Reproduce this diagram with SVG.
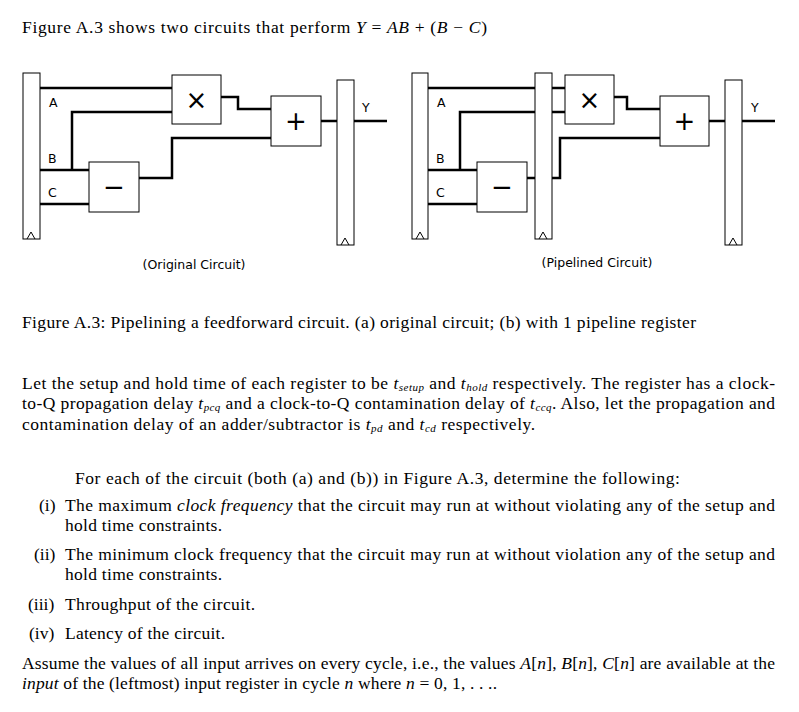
<svg xmlns="http://www.w3.org/2000/svg" width="799" height="712" viewBox="0 0 799 712">
<style>
.reg{fill:#fff;stroke:#000;stroke-width:1}
.box{fill:#fff;stroke:#000;stroke-width:1}
.w{fill:none;stroke:#000;stroke-width:2.5}
.clk{fill:none;stroke:#000;stroke-width:1}
.lab{font-family:"DejaVu Sans",sans-serif;font-size:12.5px}
.op{font-family:"DejaVu Sans",sans-serif;font-size:26px;text-anchor:middle}
.cap{font-family:"DejaVu Sans",sans-serif;font-size:12.5px;text-anchor:middle}
.t{font-family:"Liberation Serif",serif;font-size:17.5px}
.i{font-style:italic}
.s{font-style:italic;font-size:11px}
</style>
<rect width="799" height="712" fill="#fff"/>
<text class="t" x="22" y="33" textLength="465" lengthAdjust="spacing">Figure A.3  shows two circuits that perform <tspan class="i">Y</tspan> = <tspan class="i">AB</tspan> + (<tspan class="i">B</tspan> − <tspan class="i">C</tspan>)</text>
<g id="connectors">
<path class="w" d="M40 88H172M72 170V112H172M40 170H89M40 204H89M139 178H172V138H271M221 97H238V109H271M321 121H337M354 121H387"/>
<path class="w" d="M428 88H535M552 88H565M460 170V112H535M552 112H565M428 170H477M428 204H477M527 178H535M552 178H560V138H660M614 97H627V109H660M709 121H725M742 121H775"/>
</g>
<g id="reg1"><rect class="reg" x="23" y="73" width="17" height="166"/><path class="clk" d="M27 239L31 232L35 239"/></g>
<g id="mul1"><rect class="box" x="172" y="75" width="49" height="49"/><text class="op" x="196.5" y="109">×</text></g>
<g id="sub1"><rect class="box" x="89" y="162" width="50" height="50"/><text class="op" x="114" y="196">−</text></g>
<g id="add1"><rect class="box" x="271" y="96" width="50" height="50"/><text class="op" x="296" y="130">+</text></g>
<g id="reg2"><rect class="reg" x="337" y="80" width="17" height="165"/><path class="clk" d="M341 245L345 238L349 245"/></g>
<g id="reg3"><rect class="reg" x="412" y="73" width="16" height="166"/><path class="clk" d="M416 239L420 232L424 239"/></g>
<g id="regmid"><rect class="reg" x="535" y="73" width="17" height="166"/><path class="clk" d="M539 239L543 232L547 239"/></g>
<g id="mul2"><rect class="box" x="565" y="75" width="49" height="49"/><text class="op" x="589.5" y="109">×</text></g>
<g id="sub2"><rect class="box" x="477" y="162" width="50" height="50"/><text class="op" x="502" y="196">−</text></g>
<g id="add2"><rect class="box" x="660" y="96" width="49" height="50"/><text class="op" x="684.5" y="130">+</text></g>
<g id="reg4"><rect class="reg" x="725" y="80" width="17" height="165"/><path class="clk" d="M729 245L733 238L737 245"/></g>
<g class="lab">
<text x="49" y="107">A</text><text x="48" y="163">B</text><text x="48" y="197">C</text><text x="362" y="112">Y</text>
<text x="437" y="107">A</text><text x="436" y="163">B</text><text x="436" y="197">C</text><text x="751" y="112">Y</text>
</g>
<text class="cap" x="194" y="269">(Original Circuit)</text>
<text class="cap" x="597" y="267">(Pipelined Circuit)</text>
<text class="t" x="22" y="328" textLength="674" lengthAdjust="spacing">Figure A.3: Pipelining a feedforward circuit. (a) original circuit; (b) with 1 pipeline register</text>
<text class="t" x="22" y="389" textLength="753" lengthAdjust="spacing">Let the setup and hold time of each register to be <tspan class="i">t</tspan><tspan class="s" dy="2">setup</tspan><tspan dy="-2"> and </tspan><tspan class="i">t</tspan><tspan class="s" dy="2">hold</tspan><tspan dy="-2"> respectively. The register has a clock-</tspan></text>
<text class="t" x="22" y="409" textLength="753" lengthAdjust="spacing">to-Q propagation delay <tspan class="i">t</tspan><tspan class="s" dy="2">pcq</tspan><tspan dy="-2"> and a clock-to-Q contamination delay of </tspan><tspan class="i">t</tspan><tspan class="s" dy="2">ccq</tspan><tspan dy="-2">. Also, let the propagation and</tspan></text>
<text class="t" x="22" y="430" textLength="513" lengthAdjust="spacing">contamination delay of an adder/subtractor is <tspan class="i">t</tspan><tspan class="s" dy="2">pd</tspan><tspan dy="-2"> and </tspan><tspan class="i">t</tspan><tspan class="s" dy="2">cd</tspan><tspan dy="-2"> respectively.</tspan></text>
<text class="t" x="75" y="484" textLength="605" lengthAdjust="spacing">For each of the circuit (both (a) and (b)) in Figure A.3, determine the following:</text>
<text class="t" x="39" y="511">(i)</text>
<text class="t" x="65" y="511" textLength="710" lengthAdjust="spacing">The maximum <tspan class="i">clock frequency</tspan> that the circuit may run at without violating any of the setup and</text>
<text class="t" x="65" y="531" textLength="157" lengthAdjust="spacing">hold time constraints.</text>
<text class="t" x="34" y="560">(ii)</text>
<text class="t" x="65" y="560" textLength="710" lengthAdjust="spacing">The minimum clock frequency that the circuit may run at without violation any of the setup and</text>
<text class="t" x="65" y="580" textLength="157" lengthAdjust="spacing">hold time constraints.</text>
<text class="t" x="28" y="610">(iii)</text>
<text class="t" x="65" y="610" textLength="190" lengthAdjust="spacing">Throughput of the circuit.</text>
<text class="t" x="29" y="639">(iv)</text>
<text class="t" x="65" y="639" textLength="160" lengthAdjust="spacing">Latency of the circuit.</text>
<text class="t" x="22" y="669" textLength="753" lengthAdjust="spacing">Assume the values of all input arrives on every cycle, i.e., the values <tspan class="i">A</tspan>[<tspan class="i">n</tspan>], <tspan class="i">B</tspan>[<tspan class="i">n</tspan>], <tspan class="i">C</tspan>[<tspan class="i">n</tspan>] are available at the</text>
<text class="t" x="22" y="689" textLength="475" lengthAdjust="spacing"><tspan class="i">input</tspan> of the (leftmost) input register in cycle <tspan class="i">n</tspan> where <tspan class="i">n</tspan> = 0, 1, . . ..</text>
</svg>
